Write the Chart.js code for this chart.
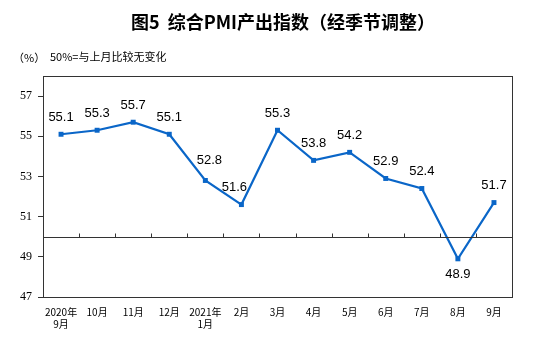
<!DOCTYPE html>
<html><head><meta charset="utf-8">
<script src="https://cdn.jsdelivr.net/npm/chart.js@4"></script>
<style>html,body{margin:0;padding:0;background:#fff}#wrap{width:554px;height:345px;position:relative}</style>
</head><body><div id="wrap"><canvas id="c" width="554" height="345"></canvas></div>
<script>
const categories = [["2020年","9月"],"10月","11月","12月",["2021年","1月"],"2月","3月","4月","5月","6月","7月","8月","9月"];
const pmiOutput = [55.1,55.3,55.7,55.1,52.8,51.6,55.3,53.8,54.2,52.9,52.4,48.9,51.7];
const yTicks = [47,49,51,53,55,57];
const titleText = "图5  综合PMI产出指数（经季节调整）";
const unitText = "（%）";
const noteText = "50%=与上月比较无变化";
const baseline = 50;
const lineColor = "#0a66c8";

// label placement tweaks (styling only, keyed by category index)
const labelNudge = {4:{dx:4,dy:-3}, 5:{dx:-7,dy:0}};

const deco = {
  id:'deco',
  afterDraw(chart){
    const ctx = chart.ctx, a = chart.chartArea, xs = chart.scales.x, ys = chart.scales.y;
    ctx.save();
    ctx.fillStyle = '#000';
    ctx.font = 'bold 18px "Noto Sans CJK SC"';
    ctx.textAlign = 'center'; ctx.textBaseline = 'middle';
    ctx.fillText(titleText, 283, 22);
    ctx.font = '11px "Noto Sans CJK SC"';
    ctx.textAlign = 'left';
    ctx.fillText(unitText, 13, 58);
    ctx.fillText(noteText, 50, 57);
    ctx.strokeStyle = '#333'; ctx.lineWidth = 1;
    ctx.strokeRect(Math.round(a.left)+0.5, Math.round(a.top)+0.5, Math.round(a.right-a.left), Math.round(a.bottom-a.top));
    const yb = Math.round(ys.getPixelForValue(baseline))+0.5;
    ctx.beginPath(); ctx.moveTo(a.left, yb); ctx.lineTo(a.right, yb); ctx.stroke();
    const n = categories.length;
    ctx.beginPath();
    for(let i=1;i<n;i++){
      const x = Math.round((xs.getPixelForValue(i-1)+xs.getPixelForValue(i))/2)+0.5;
      ctx.moveTo(x, yb); ctx.lineTo(x, yb-4);
    }
    ctx.stroke();
    ctx.restore();
  },
  afterDatasetsDraw(chart){
    const ctx = chart.ctx; const meta = chart.getDatasetMeta(0);
    ctx.save();
    ctx.fillStyle = '#000';
    ctx.font = '13px "Liberation Sans"';
    ctx.textAlign = 'center'; ctx.textBaseline = 'middle';
    meta.data.forEach((p,i)=>{
      const v = pmiOutput[i];
      const below = v < baseline;
      const nd = labelNudge[i] || {dx:0,dy:0};
      ctx.fillText(v.toFixed(1), p.x+nd.dx, (below ? p.y+16 : p.y-17)+nd.dy);
    });
    ctx.restore();
  }
};

new Chart(document.getElementById('c'), {
  type:'line',
  data:{labels:categories, datasets:[{data:pmiOutput, borderColor:lineColor, backgroundColor:lineColor, borderWidth:2.2, pointStyle:'rect', pointRadius:3.5, pointBorderWidth:0, tension:0}]},
  options:{
    responsive:false, animation:false,
    layout:{padding:{top:76,right:42,left:0,bottom:0}},
    plugins:{legend:{display:false}, tooltip:{enabled:false}, title:{display:false}},
    scales:{
      x:{offset:true, grid:{display:false, drawTicks:false}, border:{display:false},
         ticks:{color:'#000', font:{family:'"Noto Sans CJK SC"', size:10}, maxRotation:0, autoSkip:false, padding:9},
         afterFit(s){ s.height = 48; }},
      y:{min:47, max:58, afterBuildTicks(s){ s.ticks = yTicks.map(v=>({value:v})); },
         grid:{drawOnChartArea:false, tickLength:5, color:'#333'}, border:{display:false},
         ticks:{color:'#000', font:{family:'"Liberation Serif"', size:12}, padding:6},
         afterFit(s){ s.width = 43; }}
    }
  },
  plugins:[deco]
});
</script></body></html>
